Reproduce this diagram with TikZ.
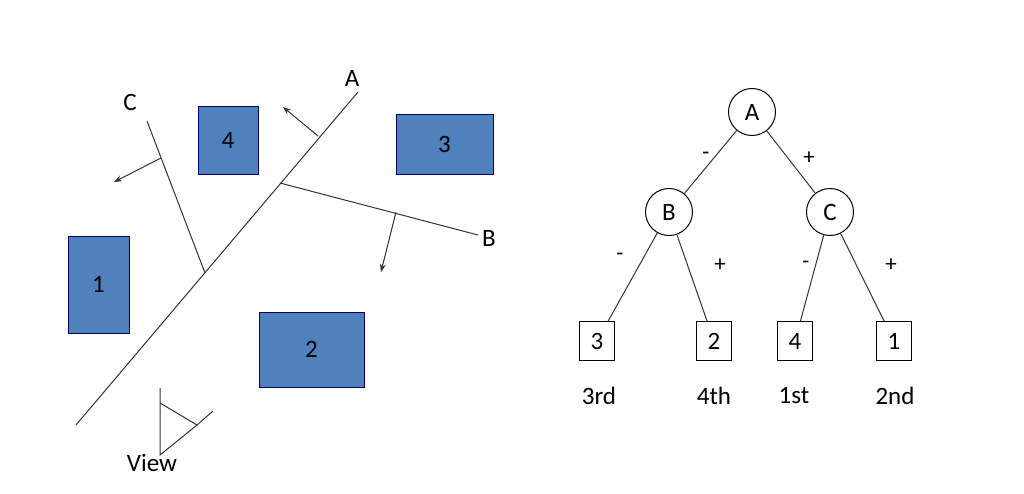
\documentclass[tikz,border=0pt]{standalone}
\usepackage{fontspec}
\setmainfont{Carlito}
\usetikzlibrary{arrows.meta}
\begin{document}
\begin{tikzpicture}[x=1pt,y=-1pt,
  ln/.style={line width=1pt,black!80},
  arr/.style={ln,-{Stealth[length=8pt,width=6pt]}},
  box/.style={draw=blue!40!black,fill={rgb,255:red,79;green,129;blue,189},line width=0.6pt,inner sep=0pt,font=\fontsize{25}{25}\selectfont},
  lab/.style={font=\fontsize{25}{25}\selectfont},
  circ/.style={circle,draw,line width=1pt,minimum size=47pt,inner sep=0pt,font=\fontsize{25}{25}\selectfont},
  sq/.style={draw,line width=1pt,minimum width=35pt,minimum height=39pt,inner sep=0pt,font=\fontsize{25}{25}\selectfont},
  sg/.style={font=\fontsize{23}{23}\selectfont}]
\useasboundingbox (0,0) rectangle (1024,493);
% left
\coordinate (a1) at (76,425); \coordinate (a2) at (358,92);
\draw[ln] (a1) -- (a2);
\node[lab] (la) at (352,78) {A};
\coordinate (an) at (318,136); \coordinate (at) at (283,107);
\draw[arr] (an) -- (at);
\coordinate (b1) at (280,183); \coordinate (b2) at (478,235);
\draw[ln] (b1) -- (b2);
\node[lab] (lb) at (489,238) {B};
\coordinate (bn) at (396,212); \coordinate (bt) at (381,272);
\draw[arr] (bn) -- (bt);
\coordinate (c1) at (147,121); \coordinate (c2) at (205,273);
\draw[ln] (c1) -- (c2);
\node[lab] (lc) at (130,102) {C};
\coordinate (cn) at (161,158); \coordinate (ct) at (114,182);
\draw[arr] (cn) -- (ct);
\node[box,minimum width=60pt,minimum height=68pt] (r4) at (228,140) {4};
\node[box,minimum width=97pt,minimum height=60pt] (r3) at (444.5,144) {3};
\node[box,minimum width=61pt,minimum height=97pt] (r1) at (98.5,284.5) {1};
\node[box,minimum width=105pt,minimum height=75pt] (r2) at (311.5,349.5) {2};
% view
\coordinate (v0) at (160,388); \coordinate (v1) at (160,403); \coordinate (v2) at (197,425);
\coordinate (v3) at (160,455); \coordinate (v4) at (213,411);
\draw[ln] (v0) -- (v3) -- (v2) -- (v1);
\draw[ln] (v2) -- (v4);
\node[lab] (vl) at (152,463) {View};
% tree
\node[circ] (A) at (752,112) {A};
\node[circ] (B) at (669,212) {B};
\node[circ] (C) at (830,212) {C};
\node[sq] (s3) at (597,341) {3};
\node[sq] (s2) at (714,341) {2};
\node[sq] (s4) at (795,341) {4};
\node[sq] (s1) at (894,341) {1};
\draw[ln] (A) -- (B); \draw[ln] (A) -- (C);
\draw[ln] (B) -- (s3); \draw[ln] (B) -- (s2);
\draw[ln] (C) -- (s4); \draw[ln] (C) -- (s1);
\node[sg] (m1) at (706,156) {-};
\node[sg] (p1) at (809,158) {+};
\node[sg] (m2) at (620,257) {-};
\node[sg] (p2) at (720,265) {+};
\node[sg] (m3) at (806,265) {-};
\node[sg] (p3) at (891,265) {+};
\node[lab] (t3) at (599,396) {3rd};
\node[lab] (t2) at (714,396) {4th};
\node[lab] (t4) at (794,396) {1st};
\node[lab] (t1) at (895,396) {2nd};
\end{tikzpicture}
\end{document}
